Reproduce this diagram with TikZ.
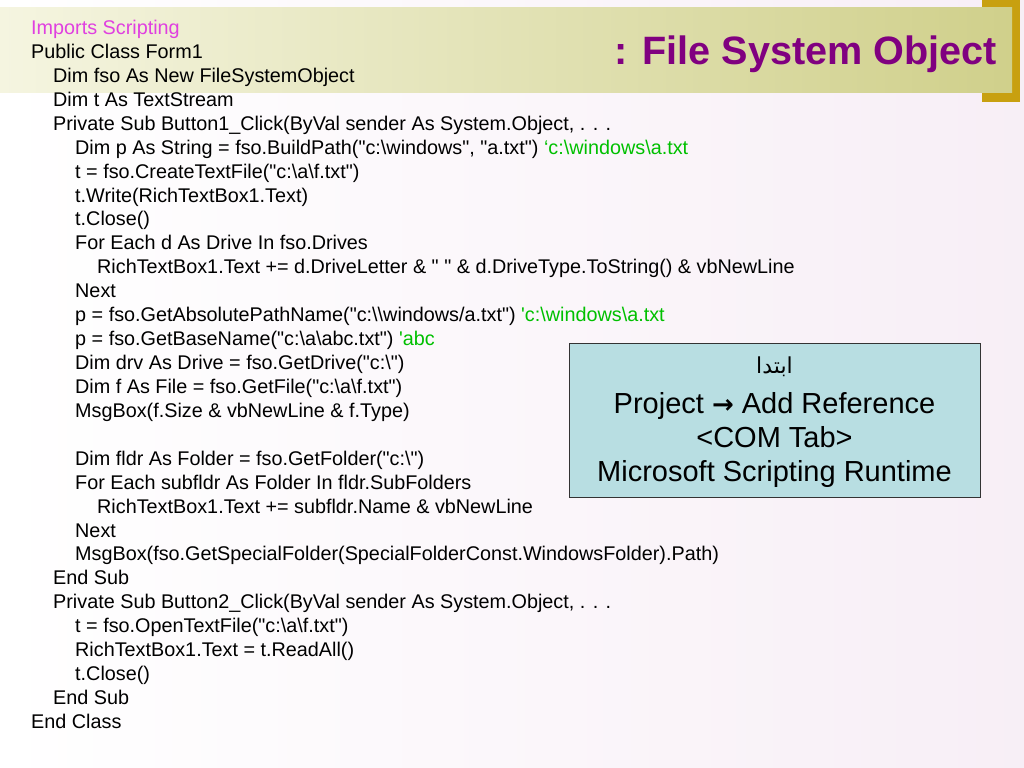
\documentclass[tikz,border=0pt]{standalone}
\usepackage{fontspec}
\setmainfont{Liberation Sans}
\newfontfamily\arabicfont[Script=Arabic]{DejaVu Sans}
\TeXXeTstate=1
\usetikzlibrary{shadings}
\definecolor{titlec}{HTML}{800080}
\definecolor{gold}{HTML}{C8A010}
\definecolor{boxc}{HTML}{B8DEE2}
\definecolor{cmt}{HTML}{00C000}
\definecolor{imp}{HTML}{E040E0}
\newcommand{\bs}{\textbackslash}
\newcommand{\q}{\textquotedbl}
\newcommand{\sq}{\textquotesingle}
\begin{document}
\begin{tikzpicture}[x=1bp,y=-1bp,
  code/.style={anchor=base west,inner sep=0,font=\fontsize{19.8bp}{22bp}\selectfont}]
\useasboundingbox (0,0) rectangle (1024,768);
\shade[left color=white,right color=pink!25!violet!8] (0,0) rectangle (1024,768);
\fill[gold] (982,0) rectangle (1020,102);
\shade[left color=white!92!olive,right color=olive!30!white!90!gray] (0,8) rectangle (1012,92);
\node[anchor=base east,inner sep=0,text=titlec,font=\fontsize{39.6bp}{42bp}\selectfont\bfseries] (title) at (997,65) {: File System Object};
\def\L#1#2{\node[code] at (#1,{28+6.5+(#2-1)*23.93})}
\L{31}{1} (l1) {\textcolor{imp}{Imports Scripting}};
\L{31}{2} (l2) {Public Class Form1};
\L{53}{3} (l3) {Dim fso As New FileSystemObject};
\L{53}{4} (l4) {Dim t As TextStream};
\L{53}{5} (l5) {Private Sub Button1\_Click(ByVal sender As System.Object, . . .};
\L{75}{6} (l6) {Dim p As String = fso.BuildPath(\q c:\bs windows\q, \q a.txt\q) \textcolor{cmt}{‘c:\bs windows\bs a.txt}};
\L{75}{7} (l7) {t = fso.CreateTextFile(\q c:\bs a\bs f.txt\q)};
\L{75}{8} (l8) {t.Write(RichTextBox1.Text)};
\L{75}{9} (l9) {t.Close()};
\L{75}{10} (l10) {For Each d As Drive In fso.Drives};
\L{97}{11} (l11) {RichTextBox1.Text += d.DriveLetter \& \q\ \q\ \& d.DriveType.ToString() \& vbNewLine};
\L{75}{12} (l12) {Next};
\L{75}{13} (l13) {p = fso.GetAbsolutePathName(\q c:\bs\bs windows/a.txt\q) \textcolor{cmt}{\sq c:\bs windows\bs a.txt}};
\L{75}{14} (l14) {p = fso.GetBaseName(\q c:\bs a\bs abc.txt\q) \textcolor{cmt}{\sq abc}};
\L{75}{15} (l15) {Dim drv As Drive = fso.GetDrive(\q c:\bs\q)};
\L{75}{16} (l16) {Dim f As File = fso.GetFile(\q c:\bs a\bs f.txt\q)};
\L{75}{17} (l17) {MsgBox(f.Size \& vbNewLine \& f.Type)};
\L{75}{19} (l19) {Dim fldr As Folder = fso.GetFolder(\q c:\bs\q)};
\L{75}{20} (l20) {For Each subfldr As Folder In fldr.SubFolders};
\L{97}{21} (l21) {RichTextBox1.Text += subfldr.Name \& vbNewLine};
\L{75}{22} (l22) {Next};
\L{75}{23} (l23) {MsgBox(fso.GetSpecialFolder(SpecialFolderConst.WindowsFolder).Path)};
\L{53}{24} (l24) {End Sub};
\L{53}{25} (l25) {Private Sub Button2\_Click(ByVal sender As System.Object, . . .};
\L{75}{26} (l26) {t = fso.OpenTextFile(\q c:\bs a\bs f.txt\q)};
\L{75}{27} (l27) {RichTextBox1.Text = t.ReadAll()};
\L{75}{28} (l28) {t.Close()};
\L{53}{29} (l29) {End Sub};
\L{31}{30} (l30) {End Class};
\draw[fill=boxc,draw=black!80] (569,343) rectangle (980,497);
\node[font=\arabicfont\fontsize{22bp}{24bp}\selectfont,inner sep=0] (ar) at (774.5,367) {\beginR ابتدا\endR};
\node[font=\fontsize{29bp}{34bp}\selectfont,align=center,anchor=north,inner sep=0] (box) at (774.5,392)
 {Project {\fontspec{DejaVu Sans}\fontsize{26bp}{26bp}\selectfont\bfseries →} Add Reference\\<COM Tab>\\Microsoft Scripting Runtime};
\end{tikzpicture}
\end{document}
